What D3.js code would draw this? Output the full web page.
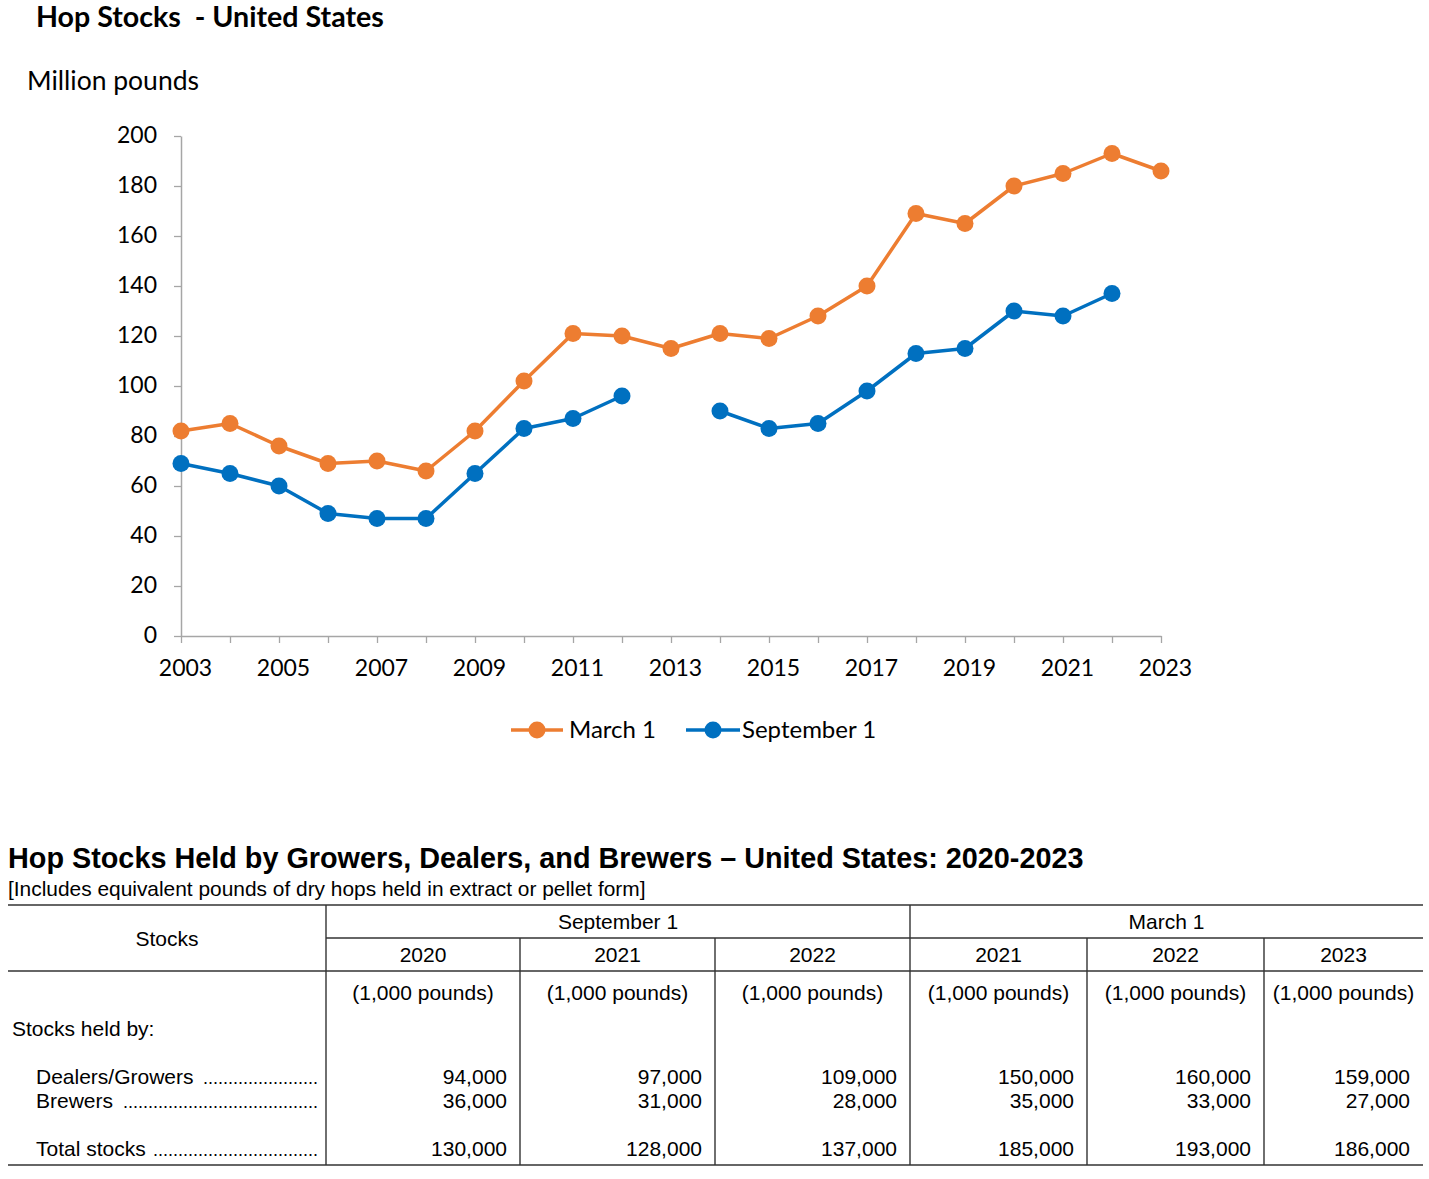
<!DOCTYPE html>
<html>
<head>
<meta charset="utf-8">
<script src="https://cdn.jsdelivr.net/npm/d3@7"></script>
<style>
  html, body { margin: 0; padding: 0; background: #fff; }
  svg { display: block; }
  text { white-space: pre; }
</style>
</head>
<body>
<svg id="chart" width="1429" height="1179"></svg>
<script>
// ---------- DATA ----------
const years = [2003,2004,2005,2006,2007,2008,2009,2010,2011,2012,2013,2014,2015,2016,2017,2018,2019,2020,2021,2022,2023];
const march1 = [82,85,76,69,70,66,82,102,121,120,115,121,119,128,140,169,165,180,185,193,186];
const sept1  = [69,65,60,49,47,47,65,83,87,96,null,90,83,85,98,113,115,130,128,137,null];
const yTicks = [0,20,40,60,80,100,120,140,160,180,200];
const xTickLabels = [2003,2005,2007,2009,2011,2013,2015,2017,2019,2021,2023];
const seriesNames = ["March 1","September 1"];

const tableGroups = ["September 1","March 1"];
const tableYears = ["2020","2021","2022","2021","2022","2023"];
const tableUnit = "(1,000 pounds)";
const rowLabels = ["Dealers/Growers","Brewers","Total stocks"];
const dealersGrowers = ["94,000","97,000","109,000","150,000","160,000","159,000"];
const brewers = ["36,000","31,000","28,000","35,000","33,000","27,000"];
const totalStocks = ["130,000","128,000","137,000","185,000","193,000","186,000"];

// ---------- CHART ----------
const svg = d3.select("#chart");
const chartFont = "Lato, 'Open Sans', sans-serif";
const orange = "#ED7D31", blue = "#0070C0", axisGray = "#a6a6a6";

svg.append("text").attr("x", 36).attr("y", 27)
  .attr("font-family", chartFont).attr("font-weight", "bold").attr("font-size", 28.6)
  .attr("fill", "#000").text("Hop Stocks  - United States");
svg.append("text").attr("x", 27).attr("y", 90)
  .attr("font-family", chartFont).attr("font-size", 26.5)
  .attr("fill", "#000").text("Million pounds");

const x = d3.scaleLinear().domain([2003, 2023]).range([181, 1161]);
const y = d3.scaleLinear().domain([0, 200]).range([636, 136]);

// y axis
const yAxis = svg.append("g").attr("transform", "translate(181,0)")
  .call(d3.axisLeft(y).tickValues(yTicks).tickSize(7).tickPadding(17).tickSizeOuter(0));
// x axis
const xAxis = svg.append("g").attr("transform", "translate(0,636)")
  .call(d3.axisBottom(x).tickValues(years).tickSize(7).tickSizeOuter(0)
    .tickFormat(d => xTickLabels.includes(d) ? d : "").tickPadding(17));
[yAxis, xAxis].forEach(g => {
  g.select(".domain").attr("stroke", axisGray).attr("stroke-width", 1.5);
  g.selectAll(".tick line").attr("stroke", axisGray).attr("stroke-width", 1.3);
  g.selectAll(".tick text").attr("font-family", chartFont).attr("font-size", 23).attr("fill", "#000");
});
xAxis.selectAll(".tick text").attr("dx", 4);
yAxis.selectAll(".tick text").attr("dy", "0.3em");

const series = [
  { name: seriesNames[0], values: march1, color: orange },
  { name: seriesNames[1], values: sept1, color: blue }
];
const line = d3.line().defined(d => d.v !== null).x(d => x(d.yr)).y(d => y(d.v));
series.forEach(s => {
  const pts = years.map((yr, i) => ({ yr, v: s.values[i] }));
  svg.append("path").datum(pts).attr("d", line)
    .attr("fill", "none").attr("stroke", s.color).attr("stroke-width", 3.5)
    .attr("stroke-linejoin", "round");
  svg.append("g").selectAll("circle").data(pts.filter(d => d.v !== null)).join("circle")
    .attr("cx", d => x(d.yr)).attr("cy", d => y(d.v)).attr("r", 8.5).attr("fill", s.color);
});

// legend
const legendPos = [{ x0: 511, x1: 563, tx: 569 }, { x0: 686, x1: 740, tx: 742 }];
series.forEach((s, i) => {
  const p = legendPos[i];
  const g = svg.append("g");
  g.append("line").attr("x1", p.x0).attr("x2", p.x1).attr("y1", 730).attr("y2", 730)
    .attr("stroke", s.color).attr("stroke-width", 3.5);
  g.append("circle").attr("cx", (p.x0 + p.x1) / 2).attr("cy", 730).attr("r", 8.5).attr("fill", s.color);
  g.append("text").attr("x", p.tx).attr("y", 738).attr("font-family", chartFont)
    .attr("font-size", 24).attr("fill", "#000").text(s.name);
});

// ---------- TABLE ----------
const tFont = "'Liberation Sans', Arial, Helvetica, sans-serif";
const lineColor = "#333";
const tSize = 21;
svg.append("text").attr("x", 8).attr("y", 868)
  .attr("font-family", tFont).attr("font-weight", "bold").attr("font-size", 28.8)
  .attr("fill", "#000").text("Hop Stocks Held by Growers, Dealers, and Brewers \u2013 United States: 2020-2023");
svg.append("text").attr("x", 8).attr("y", 896)
  .attr("font-family", tFont).attr("font-size", 20.9)
  .attr("fill", "#000").text("[Includes equivalent pounds of dry hops held in extract or pellet form]");

const colEdges = [326, 520, 715, 910, 1087, 1264, 1423];
const L = 8, R = 1423, yTop = 905, yMid = 938, yHead = 971, yBot = 1165;
function hline(x1, x2, yy) {
  svg.append("line").attr("x1", x1).attr("x2", x2).attr("y1", yy).attr("y2", yy)
    .attr("stroke", lineColor).attr("stroke-width", 1.6);
}
function vline(xx, y1, y2) {
  svg.append("line").attr("x1", xx).attr("x2", xx).attr("y1", y1).attr("y2", y2)
    .attr("stroke", lineColor).attr("stroke-width", 1.4);
}
hline(L, R, yTop);
hline(326, R, yMid);
hline(L, R, yHead);
hline(L, R, yBot);
vline(326, yTop, yBot);
vline(910, yTop, yBot);
[520, 715, 1087, 1264].forEach(c => vline(c, yMid, yBot));

function txt(xx, yy, s, anchor) {
  return svg.append("text").attr("x", xx).attr("y", yy).attr("font-family", tFont)
    .attr("font-size", tSize).attr("fill", "#000").attr("text-anchor", anchor || "start").text(s);
}
txt((L + 326) / 2, 946, "Stocks", "middle");
txt((326 + 910) / 2, 929, tableGroups[0], "middle");
txt((910 + R) / 2, 929, tableGroups[1], "middle");
tableYears.forEach((yr, i) => {
  const cx = (colEdges[i] + colEdges[i + 1]) / 2;
  txt(cx, 962, yr, "middle");
  txt(cx, 1000, tableUnit, "middle");
});
txt(12, 1036, "Stocks held by:");

const rows = [dealersGrowers, brewers, totalStocks];
const rowY = [1084, 1108, 1156];
rowLabels.forEach((lab, r) => {
  const t = txt(36, rowY[r], lab);
  const end = 36 + t.node().getComputedTextLength() + 6;
  const dt = txt(318, rowY[r], ".", "end").attr("font-size", 18);
  const dw = dt.node().getComputedTextLength();
  const n = Math.max(0, Math.floor((318 - end) / dw));
  dt.text(".".repeat(n));
  rows[r].forEach((v, i) => txt(colEdges[i + 1] - 13, rowY[r], v, "end"));
});
</script>
</body>
</html>
